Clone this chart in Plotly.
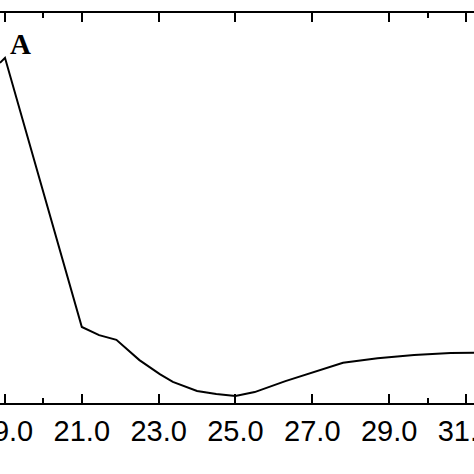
import plotly.graph_objects as go

# Trace (x in axis units, y in arbitrary signal units 0-100)
x_vals = [18.87, 19.0, 21.0, 21.45, 21.9, 22.5, 23.03, 23.37, 24.0, 24.5, 25.0,
          25.5, 26.3, 27.05, 27.8, 28.7, 29.05, 29.65, 30.6, 31.25]
y_vals = [87.2, 88.5, 19.5, 17.4, 16.2, 11.0, 7.4, 5.4, 3.1, 2.3, 1.8,
          2.8, 5.6, 7.9, 10.3, 11.5, 11.8, 12.3, 12.8, 12.9]

major_ticks = [19, 21, 23, 25, 27, 29, 31]
major_labels = ["19.0", "21.0", "23.0", "25.0", "27.0", "29.0", "31.0"]
minor_ticks = [20, 30]

peak_label = "A"

fig = go.Figure()

fig.add_trace(go.Scatter(
    x=x_vals, y=y_vals, mode="lines",
    line=dict(color="black", width=2),
    showlegend=False, hoverinfo="skip", cliponaxis=False,
))

fig.add_annotation(
    x=19.0, y=88.5, text=peak_label, showarrow=False,
    xanchor="left", yanchor="bottom", xshift=3, yshift=-4,
    font=dict(family="Liberation Serif", size=29, color="black", weight="bold"),
)

fig.update_layout(
    width=474, height=474,
    margin=dict(l=0, r=0, t=13, b=71),
    paper_bgcolor="white", plot_bgcolor="white",
    showlegend=False,
)
fig.update_xaxes(
    range=[18.87, 31.21], automargin=False,
    tickvals=major_ticks, ticktext=major_labels,
    ticks="inside", ticklen=9, tickwidth=2, tickcolor="black",
    minor=dict(tickvals=minor_ticks, ticks="inside", ticklen=5,
               tickwidth=2, tickcolor="black"),
    showline=True, linecolor="black", linewidth=2, mirror="ticks",
    showgrid=False, zeroline=False,
    tickfont=dict(family="Liberation Sans", size=29, color="black"),
    ticklabelstandoff=1, ticklabeloverflow="allow",
)
fig.update_yaxes(
    range=[0, 100], automargin=False, showline=False, showgrid=False,
    zeroline=False, showticklabels=False, ticks="",
)

# drop the browser's default 8px body margin so the figure sits at (0, 0)
fig.write_html("out.html", config={"displayModeBar": False},
               post_script="document.body.style.margin='0';")
